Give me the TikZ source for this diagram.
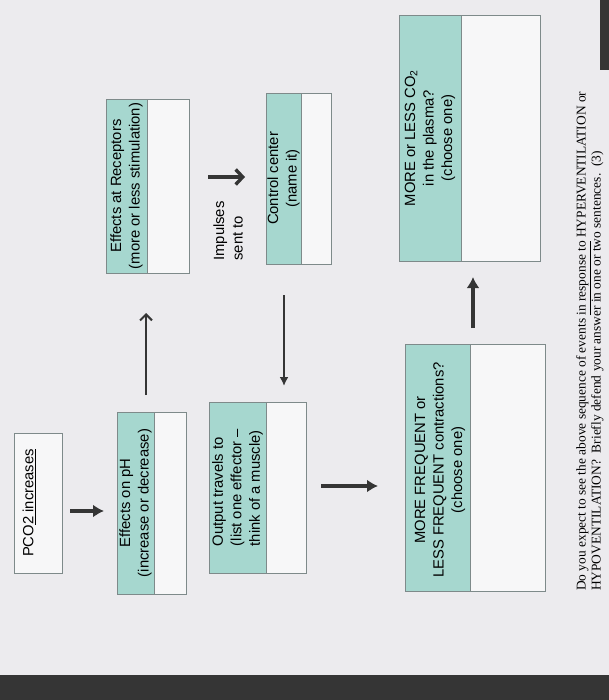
\documentclass[tikz,border=0pt]{standalone}
\usepackage{fontspec}
\setmainfont{Liberation Sans}
\newfontfamily\qfont{Liberation Serif}
\usetikzlibrary{arrows.meta}
\definecolor{paper}{HTML}{ECEBEE}
\definecolor{tealfill}{HTML}{A6D7CF}
\definecolor{boxline}{HTML}{7E8A8A}
\definecolor{inkdark}{HTML}{353535}
\begin{document}
\begin{tikzpicture}[x=1pt,y=-1pt,
  boxtext/.style={rotate=90, align=center, font=\fontsize{14.8}{18.5}\selectfont, inner sep=0pt},
  teal/.style={draw=boxline, fill=tealfill, rotate=90, inner sep=0pt},
  blank/.style={draw=boxline, fill=white!60!paper, rotate=90, inner sep=0pt},
  thick arrow/.style={draw=inkdark, line width=3.4pt, -{Latex[length=11pt,width=13pt]}},
  thin arrow/.style={draw=inkdark, line width=2pt, -{Straight Barb[length=6pt,width=12pt]}}]
\fill[paper] (0,0) rectangle (609,700);
\fill[inkdark] (0,675) rectangle (609,700);
\fill[inkdark] (600,0) rectangle (609,70);

% boxes
\node[blank, minimum width=140pt, minimum height=48pt] (pco) at (38,503) {};
\node[boxtext] (pcotext) at (29,503) {PCO\underline{2 increases}};

\node[teal, minimum width=182pt, minimum height=37pt] (ph) at (135.5,503) {};
\node[blank, minimum width=182pt, minimum height=32pt] (phans) at (170,503) {};
\node[boxtext] (phtext) at (ph) {Effects on pH\\(increase or decrease)};

\node[teal, minimum width=174pt, minimum height=41pt] (rec) at (126.5,186) {};
\node[blank, minimum width=174pt, minimum height=42pt] (recans) at (168,186) {};
\node[boxtext] (rectext) at (rec) {Effects at Receptors\\(more or less stimulation)};

\node[teal, minimum width=171pt, minimum height=35pt] (ctrl) at (283.5,178.5) {};
\node[blank, minimum width=171pt, minimum height=30pt] (ctrlans) at (316,178.5) {};
\node[boxtext] (ctrltext) at (ctrl) {Control center\\(name it)};

\node[teal, minimum width=171pt, minimum height=57pt] (out) at (237.5,487.5) {};
\node[blank, minimum width=171pt, minimum height=40pt] (outans) at (286,487.5) {};
\node[boxtext, align=left] (outtext) at (out) {Output travels to\\(list one effector --\\think of a muscle)};

\node[teal, minimum width=247pt, minimum height=65pt] (freq) at (437.5,467.5) {};
\node[blank, minimum width=247pt, minimum height=75pt] (freqans) at (507.5,467.5) {};
\node[boxtext] (freqtext) at (440,470) {MORE FREQUENT or\\LESS FREQUENT contractions?\\(choose one)};

\node[teal, minimum width=246pt, minimum height=62pt] (co) at (430,138) {};
\node[blank, minimum width=246pt, minimum height=79pt] (coans) at (500.5,138) {};
\node[boxtext] (cotext) at (co) {MORE or LESS CO\textsubscript{2}\\in the plasma?\\(choose one)};

\node[boxtext, align=left] (imp) at (228,231) {Impulses\\sent to};

% connectors
\coordinate (a1s) at (70,511);  \coordinate (a1e) at (104,511);
\coordinate (a2s) at (146,395); \coordinate (a2e) at (146,313);
\coordinate (a3s) at (208,177); \coordinate (a3e) at (245,177);
\coordinate (a4s) at (284,295); \coordinate (a4e) at (284,386);
\coordinate (a5s) at (321,486); \coordinate (a5e) at (378,486);
\coordinate (a6s) at (473,328); \coordinate (a6e) at (473,277);
\draw[thick arrow] (a1s) -- (a1e);
\draw[thin arrow] (a2s) -- (a2e);
\draw[thick arrow, -{Straight Barb[length=7pt,width=15pt]}] (a3s) -- (a3e);
\draw[thin arrow, -{Latex[length=9pt,width=9pt]}] (a4s) -- (a4e);
\draw[thick arrow] (a5s) -- (a5e);
\draw[thick arrow] (a6s) -- (a6e);

% question
\node[rotate=90, anchor=north west, align=left, inner sep=0pt,
  font=\qfont\fontsize{13.4}{15}\selectfont] (quest) at (576,591)
  {Do you expect to see the above sequence of events \underline{in response to} HYPERVENTILATION or\\
   HYPOVENTILATION?\ \ Briefly defend your answer in one or two sentences.\ \ (3)};
\end{tikzpicture}
\end{document}
